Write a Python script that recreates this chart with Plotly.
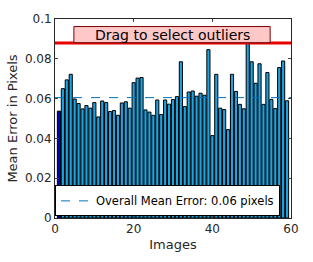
import plotly.graph_objects as go

images = list(range(1, 60))
errors = [0.0537, 0.065, 0.0694, 0.0722, 0.0598, 0.0575, 0.0548, 0.0565, 0.0552, 0.058,
          0.0508, 0.0588, 0.058, 0.0535, 0.054, 0.0516, 0.0578, 0.0584, 0.0552, 0.068,
          0.0703, 0.0706, 0.0543, 0.0532, 0.0516, 0.0593, 0.052, 0.0593, 0.0572, 0.0595,
          0.061, 0.0785, 0.056, 0.0633, 0.0638, 0.0612, 0.0627, 0.0617, 0.0846, 0.0414,
          0.0722, 0.0552, 0.0545, 0.0444, 0.0722, 0.0636, 0.0571, 0.0549, 0.0882, 0.0785,
          0.0677, 0.0775, 0.0571, 0.0731, 0.0596, 0.055, 0.0756, 0.0789, 0.0589]
selected = [1]
overall_mean = 0.0605
outlier_threshold = 0.088
x_ticks = [0, 20, 40, 60]
y_ticks = [0, 0.02, 0.04, 0.06, 0.08, 0.1]
y_tick_labels = ["0", "0.02", "0.04", "0.06", "0.08", "0.1"]

light = "rgb(28,163,225)"
dark = "rgb(0,0,185)"
colors = [dark if i in selected else light for i in images]

fig = go.Figure()
fig.add_trace(go.Bar(x=images, y=errors, width=0.8, marker=dict(color=colors, line=dict(color="black", width=1)),
                     showlegend=False))
fig.add_trace(go.Scatter(x=[0, 60], y=[overall_mean, overall_mean], mode="lines",
                         line=dict(color="rgb(0,114,189)", width=1, dash="dash"),
                         name="Overall Mean Error: %.2f pixels" % overall_mean))

fig.add_shape(type="line", xref="x", yref="y", x0=0, x1=60, y0=outlier_threshold, y1=outlier_threshold,
              line=dict(color="rgb(230,0,0)", width=3))
fig.add_shape(type="rect", xref="x", yref="y", x0=4.8, x1=54.7, y0=0.0881, y1=0.0962,
              fillcolor="rgb(255,200,200)", line=dict(color="rgb(120,0,0)", width=1))
fig.add_annotation(x=29.75, y=0.0921, xref="x", yref="y", text="Drag to select outliers", showarrow=False,
                   font=dict(family="DejaVu Sans", size=14, color="black"))

fig.update_layout(
    width=313, height=262,
    margin=dict(l=53, r=22, t=15, b=37),
    plot_bgcolor="white", paper_bgcolor="white",
    bargap=0.2,
    font=dict(family="DejaVu Sans", size=12, color="rgb(38,38,38)"),
    legend=dict(x=0.0, y=0.086, xanchor="left", yanchor="middle", bgcolor="white",
                bordercolor="black", borderwidth=1, font=dict(size=11.5, color="black"),
                itemwidth=30, entrywidth=225, tracegroupgap=0),
    xaxis=dict(range=[0, 60], tickvals=x_ticks, ticks="inside", ticklen=3, showline=True, mirror="ticks",
               linecolor="rgb(38,38,38)", linewidth=1, showgrid=False, zeroline=False,
               title=dict(text="Images", font=dict(size=13), standoff=4)),
    yaxis=dict(range=[0, 0.1], tickvals=y_ticks, ticktext=y_tick_labels, ticks="inside", ticklen=3,
               showline=True, mirror="ticks", linecolor="rgb(38,38,38)", linewidth=1, showgrid=False,
               zeroline=False, title=dict(text="Mean Error in Pixels", font=dict(size=13), standoff=4)),
)

fig.write_html("out.html")
